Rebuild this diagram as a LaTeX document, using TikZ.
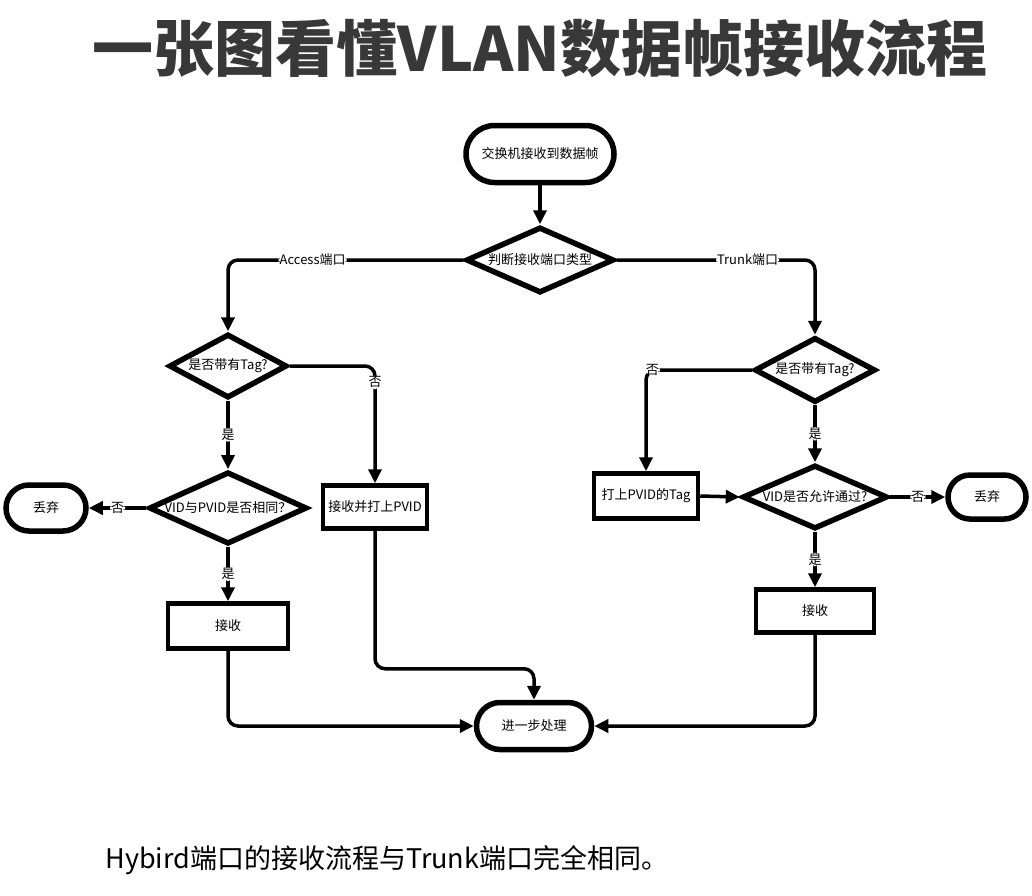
\documentclass[tikz,border=0pt]{standalone}
\usepackage{fontspec}
\newfontfamily\cjk{Noto Sans CJK SC}
\usetikzlibrary{shapes.geometric,shapes.misc,arrows.meta}
\begin{document}
\begin{tikzpicture}[x=1pt,y=-1pt,
  every node/.style={font=\cjk\fontsize{13}{15}\selectfont},
  term/.style={rounded rectangle, draw, line width=5.5pt, inner sep=0pt},
  dec/.style={diamond, draw, line width=5.5pt, inner sep=0pt, aspect=2.1},
  proc/.style={rectangle, draw, line width=4.5pt, inner sep=0pt},
  conn/.style={line width=3.5pt, rounded corners=10pt, -{Triangle[length=14pt,width=13pt]}},
  lbl/.style={fill=white, inner sep=1pt}]
\useasboundingbox[fill=white] (0,0) rectangle (1032,895);

\node[font=\cjk\bfseries\fontsize{61}{72}\selectfont, text=black!78] (title) at (540,48) {一张图看懂VLAN数据帧接收流程};

\node[term, minimum width=148, minimum height=57] (start) at (540,154) {交换机接收到数据帧};
\node[dec, minimum width=148, minimum height=66] (d1) at (540,260) {判断接收端口类型};
\node[dec, minimum width=118, minimum height=64] (d2) at (228,366) {是否带有Tag?};
\node[dec, minimum width=158, minimum height=67] (d3) at (228,508) {VID与PVID是否相同？};
\node[dec, minimum width=121, minimum height=65] (d4) at (815,370) {是否带有Tag?};
\node[dec, minimum width=145, minimum height=64] (d5) at (815,497) {VID是否允许通过?};

\node[proc, minimum width=104, minimum height=43] (b1) at (375,507) {接收并打上PVID};
\node[proc, minimum width=120, minimum height=45] (b2) at (228,626) {接收};
\node[proc, minimum width=104, minimum height=45] (b3) at (646,496) {打上PVID的Tag};
\node[proc, minimum width=118, minimum height=43] (b4) at (815,611) {接收};

\node[term, minimum width=80, minimum height=46] (drop1) at (46,508) {丢弃};
\node[term, minimum width=78, minimum height=44] (drop2) at (987,497) {丢弃};
\node[term, minimum width=115, minimum height=47] (end) at (534,726) {进一步处理};

\node[anchor=west, font=\cjk\fontsize{27}{32}\selectfont] (foot) at (102,860) {Hybird端口的接收流程与Trunk端口完全相同。};

\draw[conn] (start.south) -- (d1.north);
\draw[conn] (d1.west) -| node[lbl, pos=0.32] {Access端口} (d2.north);
\draw[conn] (d1.east) -| node[lbl, pos=0.33] {Trunk端口} (d4.north);
\draw[conn] (d2.east) -| node[lbl, pos=0.57] {否} (b1.north);
\draw[conn] (d2.south) -- node[lbl] {是} (d3.north);
\draw[conn] (d3.west) -- node[lbl] {否} (drop1.east);
\draw[conn] (d3.south) -- node[lbl] {是} (b2.north);
\draw[conn] (b2.south) |- (end.west);
\draw[conn] (b1.south) -- ++(0,138) -| (end.north);
\draw[conn] (d4.west) -| node[lbl, pos=0.47] {否} (b3.north);
\draw[conn] (b3.east) -- (d5.west);
\draw[conn] (d4.south) -- node[lbl] {是} (d5.north);
\draw[conn] (d5.east) -- node[lbl] {否} (drop2.west);
\draw[conn] (d5.south) -- node[lbl] {是} (b4.north);
\draw[conn] (b4.south) |- (end.east);
\end{tikzpicture}
\end{document}
